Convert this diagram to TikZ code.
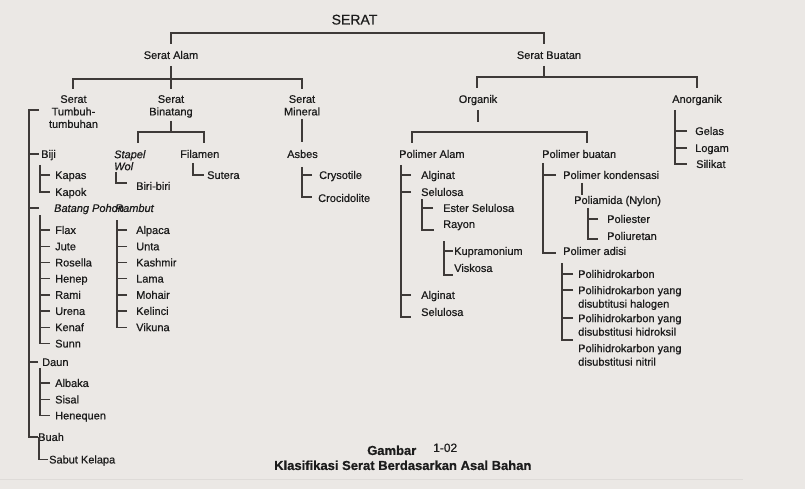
\documentclass[tikz,border=0pt]{standalone}
\usepackage{fontspec}
\setmainfont{Liberation Sans}[FakeBold=0.6]
\definecolor{bg}{HTML}{EBE8E5}
\definecolor{lnc}{HTML}{3E3A38}
\definecolor{txt}{HTML}{1C1C1C}
\definecolor{faint}{HTML}{DEDBD8}
\begin{document}
\begin{tikzpicture}[x=1pt,y=-1pt,
  lbl/.style={font=\fontsize{11}{12.5}\selectfont, inner sep=0pt, text height=7.9pt, text depth=0pt, text=txt},
  lw/.style={lbl, anchor=west},
  il/.style={lw, font=\fontsize{11}{12.5}\selectfont\itshape},
  multi/.style={font=\fontsize{11}{12.5}\selectfont, inner sep=0pt, align=center, anchor=north, text=txt},
  multil/.style={font=\fontsize{11}{13.5}\selectfont, inner sep=0pt, align=left, anchor=north west, text=txt},
  ln/.style={draw=lnc, line width=1.4pt}]
\useasboundingbox (0,0) rectangle (805,489);
\fill[bg] (0,0) rectangle (805,489);
\draw[faint, line width=0.8pt] (0,479) -- (743,479);

% ---------- top levels ----------
\node[lbl, font=\fontsize{14}{16}\selectfont, text height=10pt] (serat) at (354.5,19.5) {SERAT};
\node[lbl] (alam) at (171,55) {Serat Alam};
\node[lbl] (buatan) at (549,55) {Serat Buatan};
\node[multi] (tumb) at (73.5,95) {Serat\\Tumbuh-\\tumbuhan};
\node[multi] (binatang) at (171,95) {Serat\\Binatang};
\node[multi] (mineral) at (302,95) {Serat\\Mineral};
\node[lbl] (organik) at (478,99) {Organik};
\node[lbl] (anorganik) at (697,99) {Anorganik};

% ---------- tumbuh-tumbuhan ----------
\node[lw] (biji) at (41,154) {Biji};
\node[lw] (kapas) at (55,175) {Kapas};
\node[lw] (kapok) at (55,192) {Kapok};
\node[il] (batang) at (54,208) {Batang Pohon};
\node[lw] (flax) at (55,230) {Flax};
\node[lw] (jute) at (55,246.3) {Jute};
\node[lw] (rosella) at (55,262.5) {Rosella};
\node[lw] (henep) at (55,278.6) {Henep};
\node[lw] (rami) at (55,294.8) {Rami};
\node[lw] (urena) at (55,311) {Urena};
\node[lw] (kenaf) at (55,327.2) {Kenaf};
\node[lw] (sunn) at (55,343.5) {Sunn};
\node[lw] (daun) at (42,362) {Daun};
\node[lw] (albaka) at (55,383) {Albaka};
\node[lw] (sisal) at (55,399.5) {Sisal};
\node[lw] (henequen) at (55,415.5) {Henequen};
\node[lw] (buah) at (38,437) {Buah};
\node[lw] (sabut) at (49,459.5) {Sabut Kelapa};

% ---------- binatang ----------
\node[multil, font=\fontsize{11}{12}\selectfont\itshape] (stapel) at (114,150) {Stapel\\Wol};
\node[lw] (biri) at (136,186) {Biri-biri};
\node[lw] (filamen) at (180,154) {Filamen};
\node[lw] (sutera) at (207,175) {Sutera};
\node[il] (rambut) at (115,208) {Rambut};
\node[lw] (alpaca) at (136,230) {Alpaca};
\node[lw] (unta) at (136,246.3) {Unta};
\node[lw] (kashmir) at (136,262.5) {Kashmir};
\node[lw] (lama) at (136,278.6) {Lama};
\node[lw] (mohair) at (136,294.8) {Mohair};
\node[lw] (kelinci) at (136,311) {Kelinci};
\node[lw] (vikuna) at (136,327.2) {Vikuna};

% ---------- mineral ----------
\node[lbl] (asbes) at (302.5,154) {Asbes};
\node[lw] (crysotile) at (319,175) {Crysotile};
\node[lw] (crocidolite) at (318,198) {Crocidolite};

% ---------- organik ----------
\node[lw] (polalam) at (399,154) {Polimer Alam};
\node[lw] (alginat) at (421,175) {Alginat};
\node[lw] (selulosa) at (421,192) {Selulosa};
\node[lw] (ester) at (443,208) {Ester Selulosa};
\node[lw] (rayon) at (443,224) {Rayon};
\node[lw] (kupra) at (454,251) {Kupramonium};
\node[lw] (viskosa) at (454,268) {Viskosa};
\node[lw] (alginatb) at (421,295) {Alginat};
\node[lw] (selulosab) at (421,312) {Selulosa};

\node[lw] (polbuatan) at (542,154) {Polimer buatan};
\node[lw] (kondensasi) at (563,175) {Polimer kondensasi};
\node[lw] (poliamida) at (574,200) {Poliamida (Nylon)};
\node[lw] (poliester) at (607,219) {Poliester};
\node[lw] (poliuretan) at (607,236) {Poliuretan};
\node[lw] (adisi) at (563,251) {Polimer adisi};
\node[lw] (phA) at (578,274) {Polihidrokarbon};
\node[multil] (phB) at (578,286) {Polihidrokarbon yang\\disubtitusi halogen};
\node[multil] (phC) at (578,314) {Polihidrokarbon yang\\disubstitusi hidroksil};
\node[multil] (phD) at (578,344) {Polihidrokarbon yang\\disubstitusi nitril};

% ---------- anorganik ----------
\node[lw] (gelas) at (695,131) {Gelas};
\node[lw] (logam) at (695,148) {Logam};
\node[lw] (silikat) at (696,164) {Silikat};

% ---------- caption ----------
\node[lw, font=\fontsize{13}{15}\selectfont\bfseries] (gambar) at (367,451) {Gambar};
\node[lw, font=\fontsize{12}{14}\selectfont] (nomor) at (433,448) {1-02};
\node[lw, font=\fontsize{13}{15}\selectfont\bfseries] (judul) at (274,466) {Klasifikasi Serat Berdasarkan Asal Bahan};

% ---------- coordinates ----------
\coordinate (trunkA) at (29,110);
\coordinate (jTop) at (171,33);
\coordinate (jAlam) at (171,79);
\coordinate (jBin) at (171,132);
\coordinate (jBuatan) at (544,77);
\coordinate (jOrg) at (412,132);

% ---------- connectors ----------
\draw[ln] (171,44) -- (jTop) -- (544,33) -- (544,44);
\draw[ln] (171,66) -- (171,89);
\draw[ln] (73,89) -- (73,79) -- (302,79) -- (302,89);

% tumbuh-tumbuhan bracket
\draw[ln] (39,110) -- (trunkA) |- (buah.west);
\draw[ln] ([xshift=-2pt]biji.west) -- (biji.west -| trunkA);
\draw[ln] ([xshift=-15pt]batang.west) -- (batang.west -| trunkA);
\draw[ln] ([xshift=-4pt]daun.west) -- (daun.west -| trunkA);

\draw[ln] (40,165) |- ([xshift=-5pt]kapok.west);
\draw[ln] ([xshift=-5pt]kapas.west) -- ++(-10,0);

\draw[ln] (40,215) |- ([xshift=-5pt]sunn.west);
\foreach \n in {flax,jute,rosella,henep,rami,urena,kenaf}
  \draw[ln] ([xshift=-5pt]\n.west) -- ++(-10,0);

\draw[ln] (40,368) |- ([xshift=-5pt]henequen.west);
\foreach \n in {albaka,sisal}
  \draw[ln] ([xshift=-5pt]\n.west) -- ++(-10,0);

\draw[ln] ([xshift=1pt]buah.west) |- ([xshift=-1pt]sabut.west);

% binatang
\draw[ln] (171,121) -- (jBin);
\draw[ln] (138,143) -- (138,132) -- (204,132) -- (204,143);
\draw[ln] (116,172) |- (127,183);
\draw[ln] (193,163) |- ([xshift=-3pt]sutera.west);
\draw[ln] (117,220) |- ([xshift=-9pt]vikuna.west);
\foreach \n in {alpaca,unta,kashmir,lama,mohair,kelinci}
  \draw[ln] ([xshift=-9pt]\n.west) -- ++(-10,0);

% mineral
\draw[ln] (302,119) -- (302,142);
\draw[ln] (302,167) |- (312,197);
\draw[ln] ([xshift=-7pt]crysotile.west) -- ++(-10,0);

% serat buatan
\draw[ln] (544,66) -- (jBuatan);
\draw[ln] (477,88) -- (477,77) -- (697,77) -- (697,88);

% organik
\draw[ln] (478,110) -- (478,122);
\draw[ln] (412,143) -- (jOrg) -- (587,132) -- (587,143);

\draw[ln] (401,165) |- (411,317);
\foreach \n in {alginat,selulosa,alginatb}
  \draw[ln] ([xshift=-10pt]\n.west) -- ++(-10,0);
\draw[ln] (422,199) |- (434,230);
\draw[ln] ([xshift=-10pt]ester.west) -- ++(-11,0);
\draw[ln] (444,241) |- (453,275);
\draw[ln] ([xshift=-1pt]kupra.west) -- ++(-9,0);

\draw[ln] (543,163) |- (556,253);
\draw[ln] ([xshift=-7pt]kondensasi.west) -- ++(-13,0);
\draw[ln] (582,183) -- (582,195);
\draw[ln] (588,208) |- (598,239);
\draw[ln] ([xshift=-9pt]poliester.west) -- ++(-10,0);
\draw[ln] (562,263) |- (573,340);
\draw[ln] ([xshift=-5pt]phA.west) -- ++(-11,0);
\draw[ln] (573,290) -- (562,290);
\draw[ln] (573,318) -- (562,318);

% anorganik
\draw[ln] (675,110) |- (687,164);
\draw[ln] ([xshift=-8pt]gelas.west) -- ++(-12,0);
\draw[ln] ([xshift=-8pt]logam.west) -- ++(-12,0);
\end{tikzpicture}
\end{document}
